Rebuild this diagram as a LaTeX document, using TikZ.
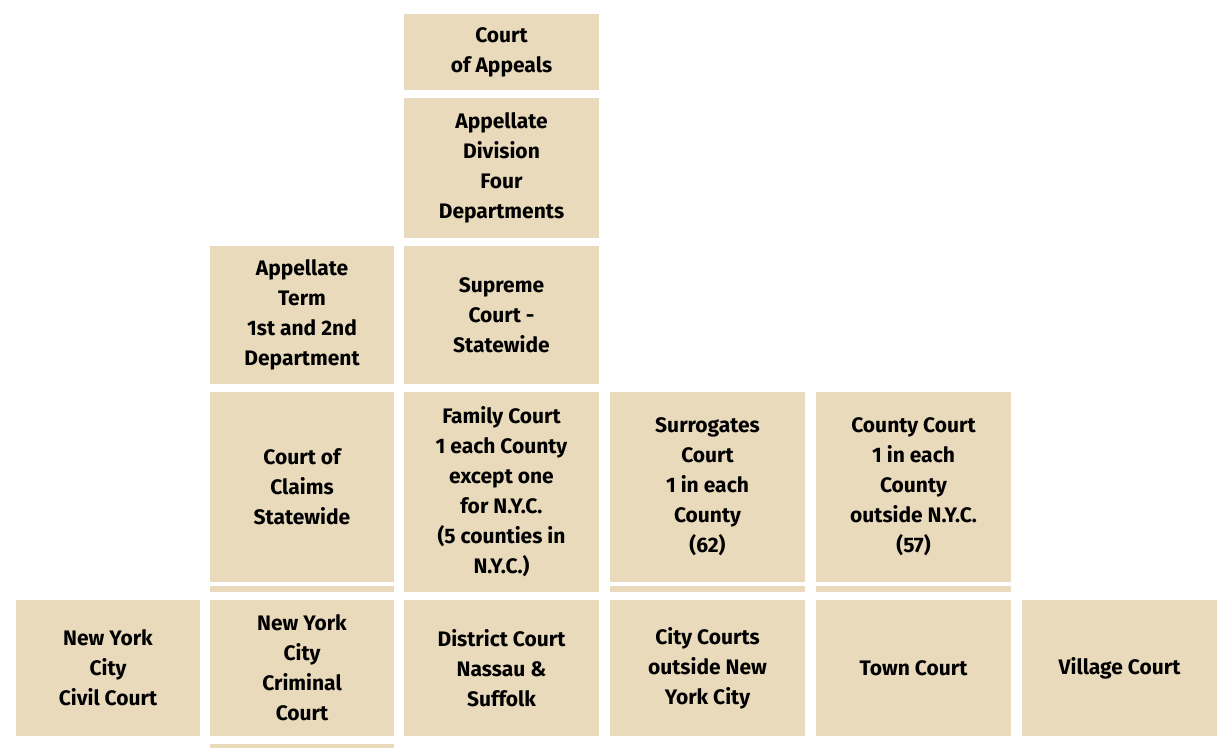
\documentclass[tikz,border=0pt]{standalone}
\usepackage{fontspec}
\setmainfont{Fira Sans}
\usetikzlibrary{positioning}
\definecolor{ctTan}{RGB}{232,218,187}
\tikzset{
  court/.style={fill=ctTan, inner sep=0pt, align=center,
    font=\fontsize{21}{30}\selectfont\bfseries},
  strip/.style={fill=ctTan}
}
\begin{document}
\begin{tikzpicture}[x=1pt, y=-1pt]
  \useasboundingbox (0,0) rectangle (1232,748);
  % top column
  \node[court, minimum width=195pt, minimum height=76pt] (appeals) at (501.5,52) {Court\\of Appeals};
  \node[court, minimum width=195pt, minimum height=140pt] (appdiv) at (501.5,168) {Appellate\\Division\\Four\\Departments};
  % third row
  \node[court, minimum width=184pt, minimum height=138pt] (appterm) at (302,315) {Appellate\\Term\\1st and 2nd\\Department};
  \node[court, minimum width=195pt, minimum height=138pt] (supreme) at (501.5,315) {Supreme\\Court -\\Statewide};
  % fourth row
  \node[court, minimum width=184pt, minimum height=190pt] (claims) at (302,487) {Court of\\Claims\\Statewide};
  \node[court, minimum width=195pt, minimum height=200pt] (family) at (501.5,492) {Family Court\\1 each County\\except one\\for N.Y.C.\\(5 counties in\\N.Y.C.)};
  \node[court, minimum width=195pt, minimum height=190pt] (surrogate) at (707.5,487) {Surrogates\\Court\\1 in each\\County\\(62)};
  \node[court, minimum width=195pt, minimum height=190pt] (county) at (913.5,487) {County Court\\1 in each\\County\\outside N.Y.C.\\(57)};
  \fill[strip] (210,586) rectangle (394,592);
  \fill[strip] (610,586) rectangle (805,592);
  \fill[strip] (816,586) rectangle (1011,592);
  % bottom row
  \node[court, minimum width=184pt, minimum height=136pt] (civil) at (108,668) {New York\\City\\Civil Court};
  \node[court, minimum width=184pt, minimum height=136pt] (criminal) at (302,668) {New York\\City\\Criminal\\Court};
  \node[court, minimum width=195pt, minimum height=136pt] (district) at (501.5,668) {District Court\\Nassau \&\\Suffolk};
  \node[court, minimum width=195pt, minimum height=136pt] (city) at (707.5,668) {City Courts\\outside New\\York City};
  \node[court, minimum width=195pt, minimum height=136pt] (town) at (913.5,668) {Town Court};
  \node[court, minimum width=195pt, minimum height=136pt] (village) at (1119.5,668) {Village Court};
  \fill[strip] (210,744) rectangle (394,748);
\end{tikzpicture}
\end{document}
